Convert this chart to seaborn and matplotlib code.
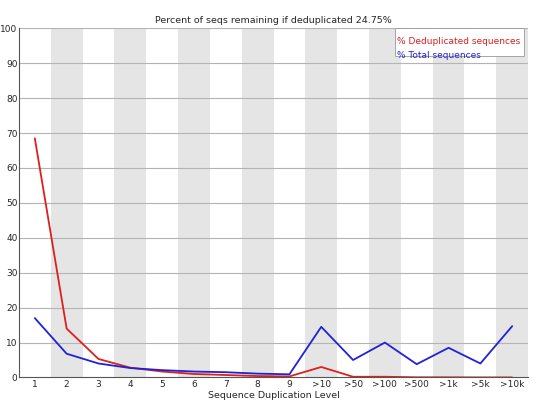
import matplotlib
matplotlib.use("Agg")
import matplotlib.pyplot as plt
import numpy as np
import pandas as pd
import seaborn as sns

levels = ["1", "2", "3", "4", "5", "6", "7", "8", "9", ">10", ">50", ">100", ">500", ">1k", ">5k", ">10k"]
dedup_pct = [68.5, 14.0, 5.3, 2.8, 1.7, 1.0, 0.7, 0.4, 0.3, 3.0, 0.2, 0.2, 0.05, 0.05, 0.02, 0.02]
total_pct = [17.0, 6.8, 4.0, 2.7, 2.1, 1.7, 1.5, 1.1, 0.9, 14.5, 5.0, 10.0, 3.8, 8.5, 4.0, 14.7]

sns.set_style("white")
plt.rcParams["font.family"] = ["DejaVu Sans"]

fig, ax = plt.subplots(figsize=(5.4, 4.05), dpi=100)
fig.subplots_adjust(left=0.035, right=0.978, top=0.93, bottom=0.068)

x = np.arange(len(levels))
for i in x:
    if i % 2 == 1:
        ax.axvspan(i - 0.5, i + 0.5, color="#e5e5e5", lw=0, zorder=0)
for yv in range(10, 101, 10):
    ax.axhline(yv, color="#b4b4b4", lw=0.8, zorder=1)

df = pd.DataFrame({"x": x, "dedup": dedup_pct, "total": total_pct})
sns.lineplot(data=df, x="x", y="dedup", color="#dd1f1f", lw=1.3, ax=ax, zorder=3)
sns.lineplot(data=df, x="x", y="total", color="#2121d6", lw=1.3, ax=ax, zorder=3)

ax.set_xlim(-0.5, len(levels) - 0.5)
ax.set_ylim(0, 100)
ax.set_xticks(x)
ax.set_xticklabels(levels, fontsize=6.5)
ax.set_yticks(range(0, 101, 10))
ax.tick_params(axis="y", labelsize=6.5, pad=1, length=0)
ax.tick_params(axis="x", pad=2, length=0)
ax.set_xlabel("Sequence Duplication Level", fontsize=6.8, labelpad=1)
ax.set_ylabel("")
ax.set_title("Percent of seqs remaining if deduplicated 24.75%", fontsize=6.8, pad=4)
for s in ["top", "right"]:
    ax.spines[s].set_visible(False)
for s in ["left", "bottom"]:
    ax.spines[s].set_color("#555555")
    ax.spines[s].set_linewidth(0.8)

ax.text(0.995, 0.985, "% Deduplicated sequences\n% Total sequences", transform=ax.transAxes,
        ha="right", va="top", fontsize=6.5, color="white", alpha=0, zorder=0)
leg_box = dict(facecolor="white", edgecolor="#999999", lw=0.6, pad=2)
t1 = ax.text(0.985, 0.975, "% Deduplicated sequences", transform=ax.transAxes,
             ha="right", va="top", fontsize=6.5, color="#dd1f1f", zorder=5)
t2 = ax.text(0.985, 0.935, "% Total sequences", transform=ax.transAxes,
             ha="left", va="top", fontsize=6.5, color="#2121d6", zorder=5)
fig.canvas.draw()
bb = t1.get_window_extent().transformed(ax.transAxes.inverted())
t2.set_x(bb.x0)
from matplotlib.patches import Rectangle
ax.add_patch(Rectangle((bb.x0 - 0.005, 0.92), bb.x1 - bb.x0 + 0.012, 0.08,
                       transform=ax.transAxes, facecolor="white", edgecolor="#999999",
                       lw=0.6, zorder=4, clip_on=False))

fig.savefig("out.png", dpi=100)
